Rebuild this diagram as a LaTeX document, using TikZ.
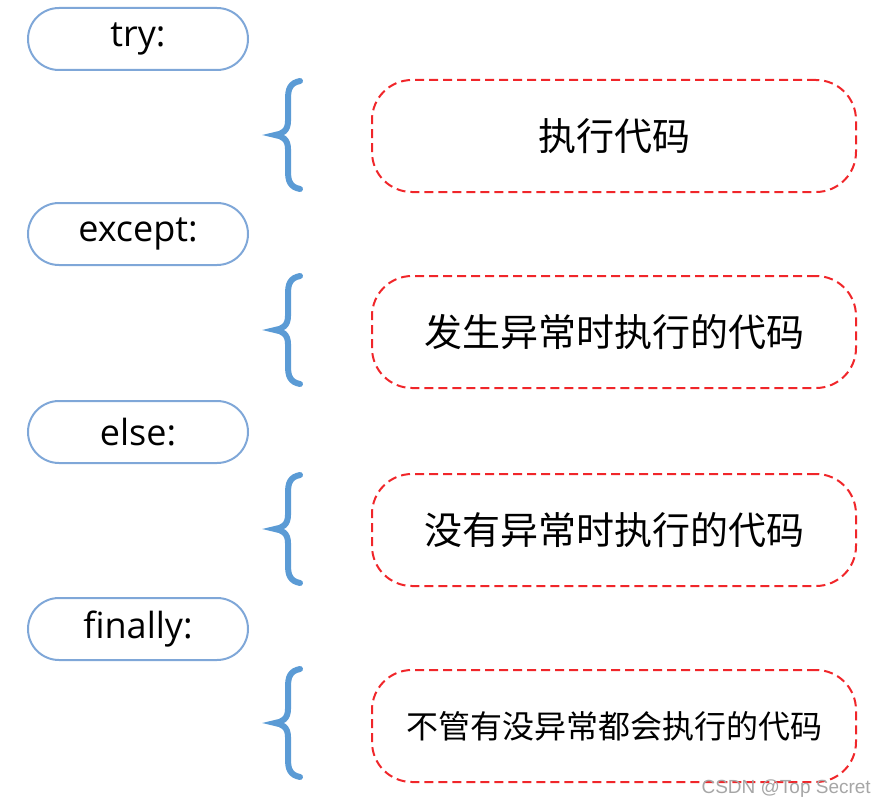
\documentclass[tikz,border=0pt]{standalone}
\usepackage{fontspec}
\setmainfont{Open Sans}
\newfontfamily\cjk{Noto Sans CJK SC}
\newfontfamily\wmfont{Liberation Sans}
\definecolor{pillc}{HTML}{7FA7D8}
\definecolor{bracec}{HTML}{5B9BD5}
\definecolor{redc}{HTML}{F0262A}
\tikzset{
 pill/.style={draw=pillc,line width=2pt,rounded corners=31pt,minimum width=220pt,minimum height=62pt,font=\fontsize{36}{36}\selectfont},
 codebox/.style={draw=redc,line width=2pt,dash pattern=on 9pt off 5pt,rounded corners=40pt,minimum width=484pt,minimum height=112pt},
 bracel/.style={draw=bracec,line width=6pt,line cap=round}
}
\newcommand{\mybrace}[1]{\draw[bracel] (300,#1-54) .. controls (290,#1-52) and (288,#1-46) .. (288,#1-36) -- (288,#1-14) .. controls (288,#1-4) and (282,#1-1) .. (275,#1) .. controls (282,#1+1) and (288,#1+4) .. (288,#1+14) -- (288,#1+36) .. controls (288,#1+46) and (290,#1+52) .. (300,#1+54);}
\begin{document}
\begin{tikzpicture}[x=1pt,y=-1pt]
\useasboundingbox (0,0) rectangle (887,808);
\node[pill] (p1) at (138,39) {try:};
\node[pill] (p2) at (138,234) {except:};
\node[pill] (p3) at (138,432) {else:};
\node[pill] (p4) at (138,629) {finally:};
\mybrace{135}
\mybrace{330}
\mybrace{529}
\mybrace{723}
\node[codebox,font=\cjk\fontsize{38}{38}\selectfont] (c1) at (614,136) {执行代码};
\node[codebox,font=\cjk\fontsize{38}{38}\selectfont] (c2) at (614,332) {发生异常时执行的代码};
\node[codebox,font=\cjk\fontsize{38}{38}\selectfont] (c3) at (614,530) {没有异常时执行的代码};
\node[codebox,font=\cjk\fontsize{32}{32}\selectfont] (c4) at (614,726) {不管有没异常都会执行的代码};
\node[anchor=south east,text=gray!70,font=\wmfont\fontsize{19}{19}\selectfont,inner sep=2pt] (wm) at (873,800) {CSDN @Top Secret};
\end{tikzpicture}
\end{document}
